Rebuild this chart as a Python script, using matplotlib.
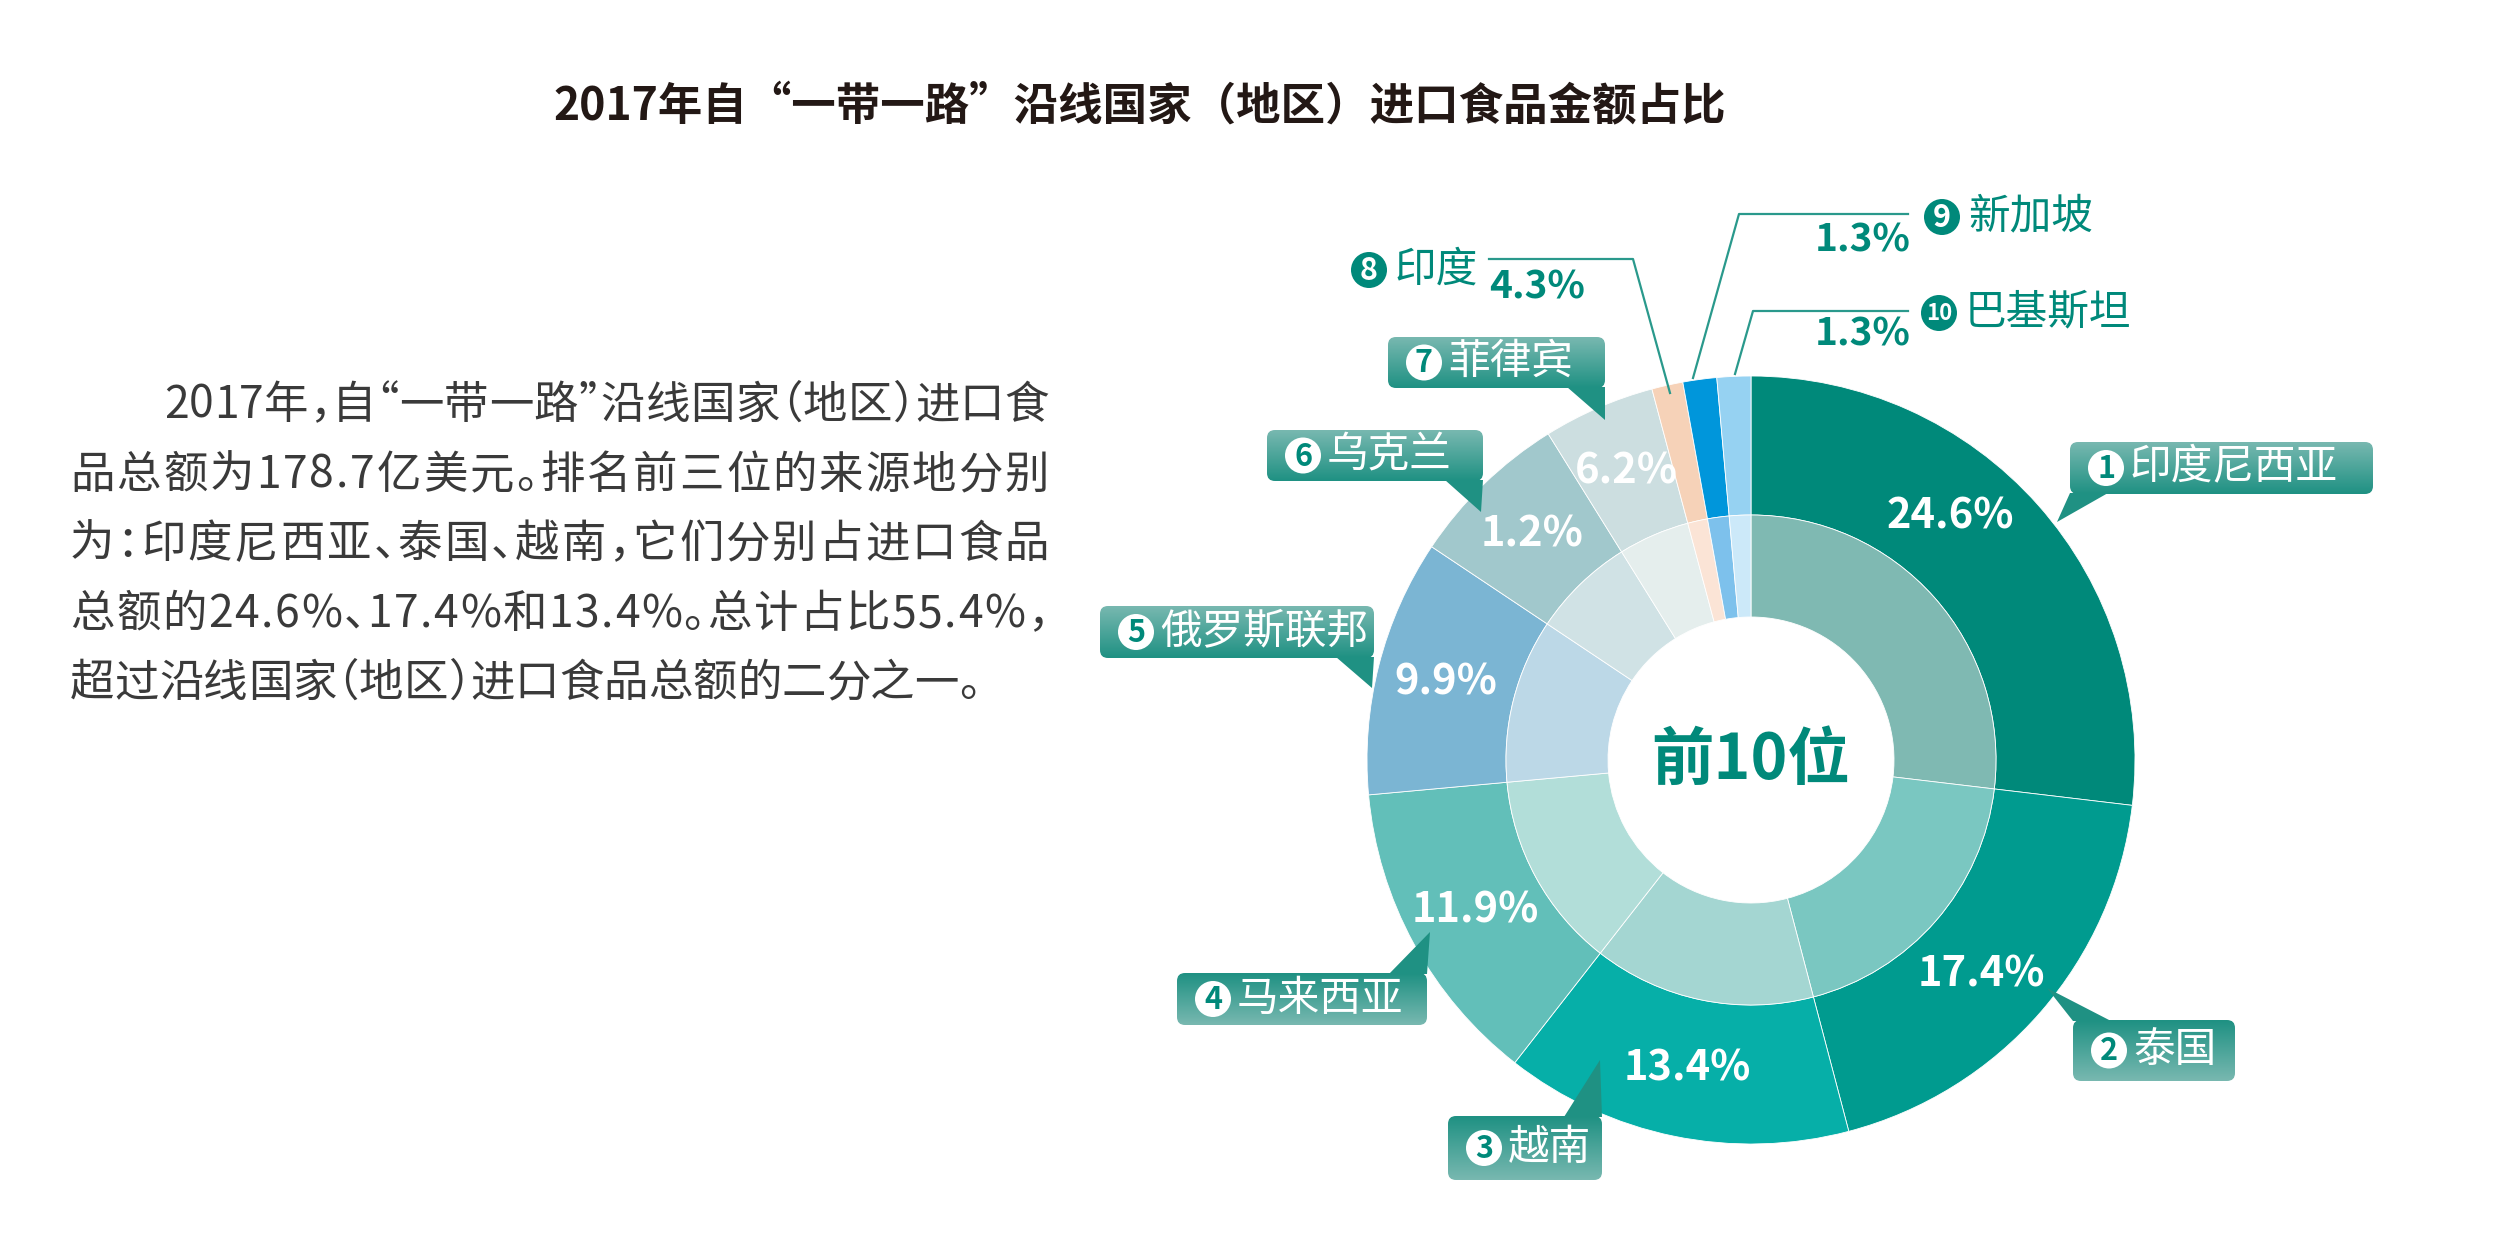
import matplotlib.pyplot as plt
import numpy as np
from matplotlib import font_manager
from matplotlib.ft2font import FT2Font
from matplotlib.patches import FancyBboxPatch, Polygon, Circle
from matplotlib.colors import to_rgb

plt.rcParams['font.family'] = ['Noto Sans CJK SC', 'DejaVu Sans']

title = "2017年自“一带一路”沿线国家（地区）进口食品金额占比"
intro_lines = [
    "2017年，自“一带一路”沿线国家（地区）进口食",
    "品总额为178.7亿美元。排名前三位的来源地分别",
    "为：印度尼西亚、泰国、越南，它们分别占进口食品",
    "总额的24.6%、17.4%和13.4%。总计占比55.4%，",
    "超过沿线国家（地区）进口食品总额的二分之一。",
]
countries = ["印度尼西亚", "泰国", "越南", "马来西亚", "俄罗斯联邦",
             "乌克兰", "菲律宾", "印度", "新加坡", "巴基斯坦"]
# wedge sizes as drawn, and the percentage text printed on the chart
shares = [24.6, 17.4, 13.4, 11.9, 9.9, 6.2, 4.3, 1.2, 1.3, 1.3]
share_labels = ["24.6%", "17.4%", "13.4%", "11.9%", "9.9%",
                "1.2%", "6.2%", "4.3%", "1.3%", "1.3%"]
center_label = "前10位"

outer_colors = ["#00897A", "#009B8F", "#06AFA8", "#62BFB9", "#7BB5D3",
                "#A1C8CC", "#CCDEE0", "#F6D2B8", "#0096DB", "#96D2F2"]
inner_colors = ["#7FB9B2", "#7AC7C1", "#A4D6D2", "#B2DED9", "#BCD8E7",
                "#D0E2E5", "#E5EEED", "#FBE4D6", "#7DC1EC", "#CCE9F9"]
teal = "#00897A"

W, H = 2500, 1256
fig = plt.figure(figsize=(W / 100, H / 100), dpi=100)
ax = fig.add_axes([0, 0, 1, 1])

# donut (y axis is inverted later, so counterclock here reads clockwise)
cx, cy = 1751, 760
r_out, r_mid, r_in = 384, 245, 143
wedges, _ = ax.pie(shares, radius=r_out, center=(cx, cy), startangle=-90,
                   counterclock=True, colors=outer_colors,
                   wedgeprops=dict(width=r_out - r_mid, edgecolor="white", linewidth=0.6))
ax.pie(shares, radius=r_mid, center=(cx, cy), startangle=-90,
       counterclock=True, colors=inner_colors,
       wedgeprops=dict(width=r_mid - r_in, edgecolor="white", linewidth=0.6))

ax.text(cx, cy, center_label, ha="center", va="center", fontsize=45,
        fontweight="bold", color=teal)

# white percentages inside the first seven wedges
r_lab = (r_out + r_mid) / 2
nudge = [-9, 2, 0, 0, 0, 0, 0]   # degrees, the 24.6% sits above the wedge middle
for w, lab, dn in zip(wedges[:7], share_labels[:7], nudge):
    th = np.deg2rad((w.theta1 + w.theta2) / 2 + dn)
    ax.text(cx + r_lab * np.cos(th), cy + r_lab * np.sin(th), lab,
            ha="center", va="center", fontsize=30, fontweight="bold", color="white")


def callout(i, box, tip, edge, corner):
    x0, y0, x1, y1 = box
    dark, light = np.array(to_rgb("#1f9183")), np.array(to_rgb("#78b8b0"))
    t = np.linspace(0, 1, 60)[:, None]
    if edge == "bottom":
        t = 1 - t
    grad = dark + (light - dark) * t
    grad = np.repeat(grad[:, None, :], 2, axis=1)
    im = ax.imshow(grad, extent=(x0, x1, y0, y1), origin="lower",
                   aspect="auto", interpolation="bilinear", zorder=5)
    patch = FancyBboxPatch((x0, y0), x1 - x0, y1 - y0,
                           boxstyle="round,pad=0,rounding_size=8",
                           facecolor="none", edgecolor="none", zorder=5)
    ax.add_patch(patch)
    im.set_clip_path(patch)
    ey = y1 - 1 if edge == "bottom" else y0 + 1
    cxp = x1 if corner == "right" else x0
    off = -38 if corner == "right" else 38
    ax.add_patch(Polygon([(cxp, ey), (cxp + off, ey), tip], closed=True,
                         facecolor="#1f9183", edgecolor="none", zorder=5))
    my = (y0 + y1) / 2
    ax.add_patch(Circle((x0 + 36, my), 18, facecolor="white", edgecolor="none", zorder=6))
    ax.text(x0 + 36, my + 1, str(i + 1), ha="center", va="center", fontsize=22,
            fontweight="bold", color=teal, zorder=7)
    ax.text(x0 + 60, my, countries[i], ha="left", va="center", fontsize=30,
            color="white", zorder=7)


callout(0, (2070, 442, 2373, 494), (2057, 522), "bottom", "left")
callout(1, (2073, 1020, 2235, 1081), (2047, 988), "top", "left")
callout(2, (1448, 1116, 1602, 1180), (1600, 1060), "top", "right")
callout(3, (1177, 973, 1427, 1025), (1430, 932), "top", "right")
callout(4, (1100, 606, 1374, 658), (1372, 688), "bottom", "right")
callout(5, (1267, 430, 1483, 481), (1481, 512), "bottom", "right")
callout(6, (1388, 337, 1605, 388), (1605, 420), "bottom", "right")

# small slices labelled outside with leader lines
line_col = "#2a998c"
ax.plot([1489, 1633, 1670], [259, 259, 393], color=line_col, lw=1.6, zorder=4)
ax.plot([1908, 1739, 1693], [214, 214, 378], color=line_col, lw=1.6, zorder=4)
ax.plot([1908, 1753, 1735], [311, 311, 374], color=line_col, lw=1.6, zorder=4)

for i, (bx, by), (px, py, pha) in [
        (7, (1369, 270), (1489, 287, "left")),
        (8, (1942, 217), (1911, 240, "right")),
        (9, (1939, 313), (1911, 334, "right"))]:
    ax.add_patch(Circle((bx, by), 18, facecolor=teal, edgecolor="none", zorder=6))
    ax.text(bx, by + 1, str(i + 1), ha="center", va="center",
            fontsize=22 if i < 9 else 16, fontweight="bold", color="white", zorder=7)
    ax.text(bx + 26, by, countries[i], ha="left", va="center", fontsize=30,
            color=teal, zorder=7)
    ax.text(px, py, share_labels[i], ha=pha, va="center", fontsize=28,
            fontweight="bold", color=teal, zorder=7)

# title
ax.text(1140, 107, title, ha="center", va="center", fontsize=32,
        fontweight="bold", color="#231815")

# intro paragraph, set character by character so lines can be justified
fsize = 32
ft = FT2Font(font_manager.findfont(font_manager.FontProperties(family="Noto Sans CJK SC")))
ft.set_size(fsize, 100)
em = fsize * 100 / 72
closing, opening = "，。、：；”）", "“（"


def advances(s):
    out = []
    for c in s:
        if c in closing or c in opening:
            out.append(em / 2)
        else:
            out.append(ft.load_char(ord(c)).linearHoriAdvance / 65536)
    return out


line_y = [402, 472, 541, 611, 680]
right_edge = 1049
for k, (ln, y) in enumerate(zip(intro_lines, line_y)):
    x = 164 if k == 0 else 70
    adv = advances(ln)
    extra = 0.0
    if k < len(intro_lines) - 1:
        extra = (right_edge - x - sum(adv)) / (len(ln) - 1)
    for c, a in zip(ln, adv):
        dx = -em / 2 if c in opening else 0
        ax.text(x + dx, y + 16, c, ha="left", va="baseline", fontsize=fsize,
                color="#3a3a3a")
        x += a + extra

ax.set_xlim(0, W)
ax.set_ylim(H, 0)
ax.set_aspect("auto")
ax.axis("off")
fig.savefig("out.png", dpi=100, facecolor="white")
